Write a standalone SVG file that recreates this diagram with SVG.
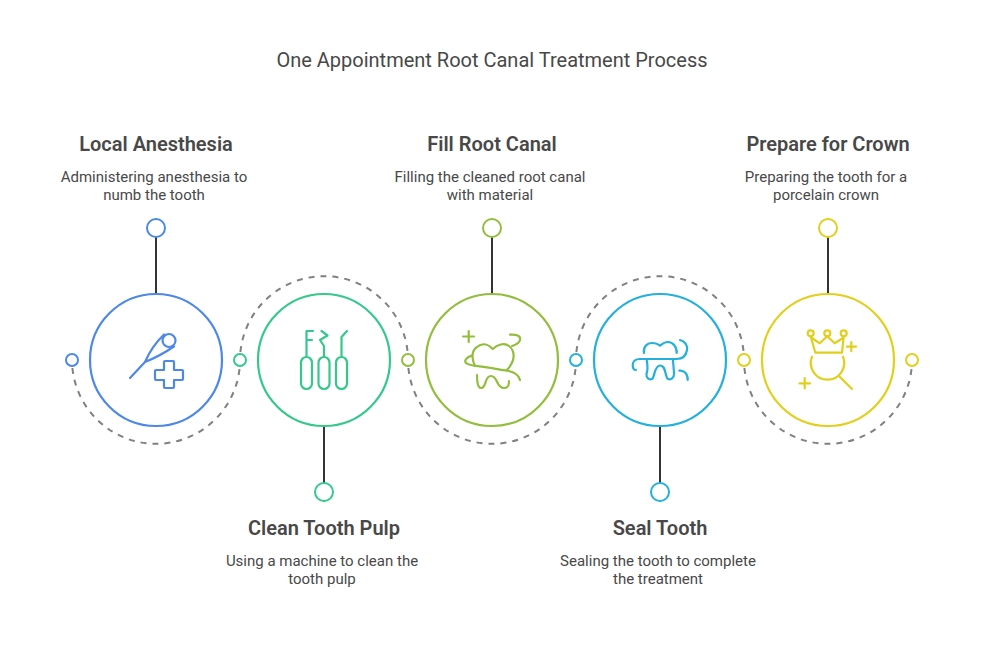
<svg xmlns="http://www.w3.org/2000/svg" width="984" height="648" viewBox="0 0 984 648">
<style>
text{font-family:Roboto,"Liberation Sans",sans-serif;fill:#484848;text-anchor:middle}
.t{font-size:20px}
.h{font-size:20px;font-weight:600}
.d{font-size:15px}
.c{fill:#fff;stroke-width:2.2}
.s{fill:#fff;stroke-width:2}
.i{fill:none;stroke-width:2.2;stroke-linecap:round;stroke-linejoin:round}
.l{stroke:#333;stroke-width:2;fill:none}
.a{stroke:#808080;stroke-width:2;stroke-dasharray:6 6;fill:none}
.blue{stroke:#4e88e7}.green{stroke:#34c98b}.lime{stroke:#93bd3c}.cyan{stroke:#24b0dc}.yellow{stroke:#e2cf1b}
</style>
<rect width="984" height="648" fill="#fff"/>
<text class="t" x="492" y="67">One Appointment Root Canal Treatment Process</text>
<g id="connectors">
<path class="a" d="M72.400 368A84 84 0 0 0 239.600 368"/>
<path class="a" d="M240.400 352A84 84 0 0 1 407.600 352"/>
<path class="a" d="M408.400 368A84 84 0 0 0 575.600 368"/>
<path class="a" d="M576.400 352A84 84 0 0 1 743.600 352"/>
<path class="a" d="M744.400 368A84 84 0 0 0 911.600 368"/>
<path class="l" d="M156 237V294M324 426V483M492 237V294M660 426V483M828 237V294"/>
</g>
<g id="ports">
<circle class="s blue" cx="72" cy="360" r="6"/>
<circle class="s green" cx="240" cy="360" r="6"/>
<circle class="s lime" cx="408" cy="360" r="6"/>
<circle class="s cyan" cx="576" cy="360" r="6"/>
<circle class="s yellow" cx="744" cy="360" r="6"/>
<circle class="s yellow" cx="912" cy="360" r="6"/>
</g>
<g id="node-local-anesthesia">
<circle class="c blue" cx="156" cy="360" r="66"/>
<circle class="s blue" cx="156" cy="228" r="9"/>
<g class="i blue">
<circle cx="169" cy="340.500" r="6.500"/>
<path d="M130 378L145 362Q152 346 164 334.500M145 362Q160 356 174 346.500"/>
<path d="M164 362Q164 361 165 361H173Q174 361 174 362V370H182Q183 370 183 371V379Q183 380 182 380H174V387Q174 388 173 388H165Q164 388 164 387V380H156Q155 380 155 379V371Q155 370 156 370H164Z"/>
</g>
<text class="h" x="156" y="151">Local Anesthesia</text>
<text class="d" x="154" y="182">Administering anesthesia to</text>
<text class="d" x="154" y="200">numb the tooth</text>
</g>
<g id="node-clean-tooth-pulp">
<circle class="c green" cx="324" cy="360" r="66"/>
<circle class="s green" cx="324" cy="492" r="9"/>
<g class="i green">
<rect x="301" y="357" width="11" height="32" rx="5.500"/>
<rect x="318.500" y="357" width="11" height="32" rx="5.500"/>
<rect x="336" y="357" width="11" height="32" rx="5.500"/>
<path d="M306.500 357V331H313M306.500 340H312"/>
<path d="M324 357V346L320 340L327.500 335.500L321.500 331"/>
<path d="M341.500 357V337L347 331"/>
</g>
<text class="h" x="324" y="535">Clean Tooth Pulp</text>
<text class="d" x="322" y="566">Using a machine to clean the</text>
<text class="d" x="322" y="584">tooth pulp</text>
</g>
<g id="node-fill-root-canal">
<circle class="c lime" cx="492" cy="360" r="66"/>
<circle class="s lime" cx="492" cy="228" r="9"/>
<g class="i lime">
<path d="M463 336.500H474M468.700 331V342"/>
<path d="M475 366C471 358 472 350 477 347C483 342 489 345 492.700 349C497 345 504 342 509 346C515 351 516 360 507 370"/>
<path d="M510 334.700C516 334 521 336 520 340C519 344 515 345 512 346"/>
<path d="M472 355.700C466 357 464 361 466 363C469 366 480 366 489 367.700C497 369 504 370 507 370.700C514 372 519 375 520 380"/>
<path d="M477 375C477 381 478 388 481 388C487 388 484 376 491 376C498 376 496 388 504 388C508 388 509 386 509 381"/>
</g>
<text class="h" x="492" y="151">Fill Root Canal</text>
<text class="d" x="490" y="182">Filling the cleaned root canal</text>
<text class="d" x="490" y="200">with material</text>
</g>
<g id="node-seal-tooth">
<circle class="c cyan" cx="660" cy="360" r="66"/>
<circle class="s cyan" cx="660" cy="492" r="9"/>
<g class="i cyan">
<path d="M644 353C643 347 647 343 652 343C655 343 658 344 660 345.700C662 344 665 342 668 342C673 342 677 347 676.700 353"/>
<path d="M680 340C685 341 688 346 687 350C686 356 682 359 676.700 359H640C635 359 632.700 362 632.700 365C632.700 368 634 370 636 370"/>
<path d="M646.700 360C648 367 648 370 646.500 374C646 378 649 380 652 379C655 377 654 366 660 365.500C666 365 665 377 668 379C671 380 674 378 674 374C674 369 673 364 673 359"/>
<path d="M679.300 370.700C684 370 688 374 687.700 380"/>
</g>
<text class="h" x="660" y="535">Seal Tooth</text>
<text class="d" x="658" y="566">Sealing the tooth to complete</text>
<text class="d" x="658" y="584">the treatment</text>
</g>
<g id="node-prepare-for-crown">
<circle class="c yellow" cx="828" cy="360" r="66"/>
<circle class="s yellow" cx="828" cy="228" r="9"/>
<g class="i yellow">
<circle cx="810.700" cy="333.300" r="3"/>
<circle cx="827.300" cy="333.300" r="3"/>
<circle cx="843.700" cy="333.300" r="3"/>
<path d="M810.700 336.300L815.300 352.700H842L843.700 336.300"/>
<path d="M812 338L819.700 343.300L827.300 336.300L834.700 343.300L843 338"/>
<path d="M812 356.700A16.700 16.700 0 1 0 843 356.700"/>
<path d="M839.700 376.700L852 389"/>
<path d="M847 346.700H856M851.300 342.200V351.200"/>
<path d="M799.500 383.300H810M804.700 378V388.500"/>
</g>
<text class="h" x="828" y="151">Prepare for Crown</text>
<text class="d" x="826" y="182">Preparing the tooth for a</text>
<text class="d" x="826" y="200">porcelain crown</text>
</g>
</svg>
